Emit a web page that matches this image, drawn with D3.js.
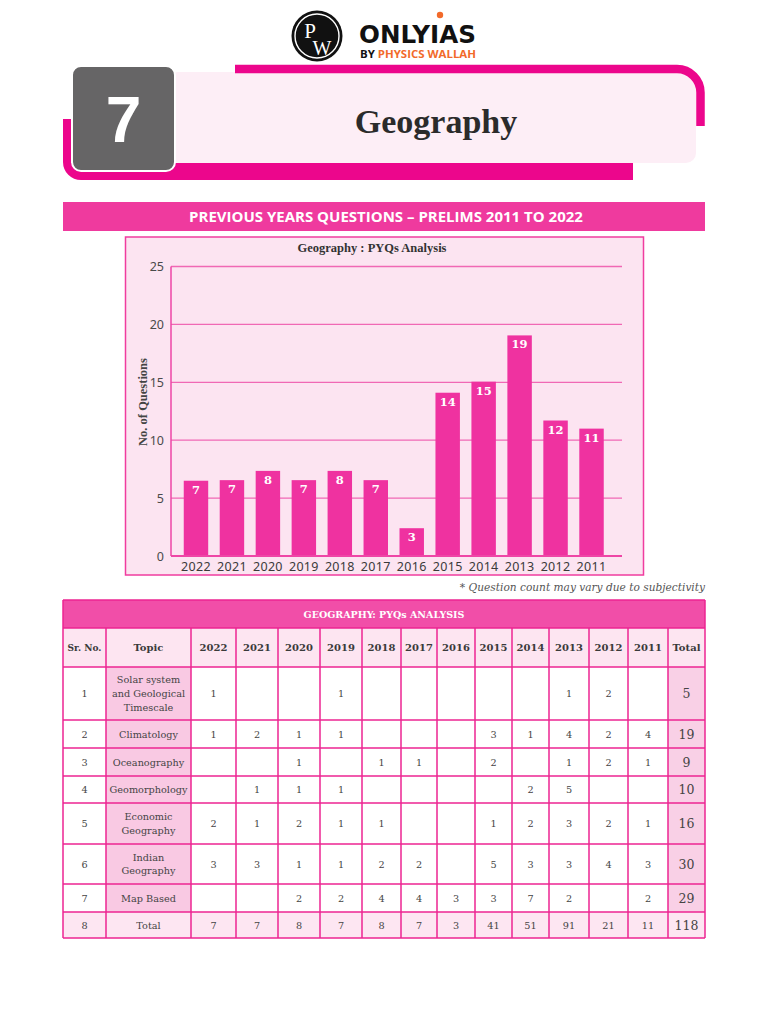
<!DOCTYPE html>
<html>
<head>
<meta charset="utf-8">
<script src="https://cdn.jsdelivr.net/npm/d3@7"></script>
<style>
  html, body { margin: 0; padding: 0; background: #ffffff; }
  svg { display: block; }
</style>
</head>
<body>
<svg id="page" width="768" height="1024"></svg>
<script>
// ---------------- DATA ----------------
const years = ["2022","2021","2020","2019","2018","2017","2016","2015","2014","2013","2012","2011"];
const questionCounts = [7, 7, 8, 7, 8, 7, 3, 14, 15, 19, 12, 11];            // printed bar labels
const barHeights = [6.5, 6.55, 7.35, 6.55, 7.35, 6.55, 2.4, 14.1, 15.05, 19.05, 11.7, 11.0]; // drawn heights
const yTicks = [0, 5, 10, 15, 20, 25];

const srNos = ["1","2","3","4","5","6","7","8"];
const topics = [
  ["Solar system", "and Geological", "Timescale"],
  ["Climatology"],
  ["Oceanography"],
  ["Geomorphology"],
  ["Economic", "Geography"],
  ["Indian", "Geography"],
  ["Map Based"],
  ["Total"]
];
const solarSystem   = [1, null, null, 1, null, null, null, null, null, 1, 2, null];
const climatology   = [1, 2, 1, 1, null, null, null, 3, 1, 4, 2, 4];
const oceanography  = [null, null, 1, null, 1, 1, null, 2, null, 1, 2, 1];
const geomorphology = [null, 1, 1, 1, null, null, null, null, 2, 5, null, null];
const economicGeo   = [2, 1, 2, 1, 1, null, null, 1, 2, 3, 2, 1];
const indianGeo     = [3, 3, 1, 1, 2, 2, null, 5, 3, 3, 4, 3];
const mapBased      = [null, null, 2, 2, 4, 4, 3, 3, 7, 2, null, 2];
const yearTotals    = [7, 7, 8, 7, 8, 7, 3, 41, 51, 91, 21, 11];
const rowTotals     = [5, 19, 9, 10, 16, 30, 29, 118];
const tableRows = [solarSystem, climatology, oceanography, geomorphology, economicGeo, indianGeo, mapBased, yearTotals];

// ---------------- PAGE ----------------
const svg = d3.select("#page");
svg.append("rect").attr("width", 768).attr("height", 1024).attr("fill", "#ffffff");

const MAG = "#ec068c";

// ---- Logo ----
const logo = svg.append("g");
logo.append("circle").attr("cx", 317).attr("cy", 36).attr("r", 25.5).attr("fill", "#111");
logo.append("circle").attr("cx", 317).attr("cy", 36).attr("r", 22).attr("fill", "none").attr("stroke", "#fff").attr("stroke-width", 1.4);
logo.append("text").attr("x", 310).attr("y", 38).attr("text-anchor", "middle")
  .attr("font-family", "Liberation Serif").attr("font-size", 21).attr("fill", "#fff").text("P");
logo.append("text").attr("x", 322).attr("y", 55).attr("text-anchor", "middle")
  .attr("font-family", "Liberation Serif").attr("font-size", 20).attr("fill", "#fff").text("W");
logo.append("text").attr("x", 359).attr("y", 43)
  .attr("font-family", "DejaVu Sans").attr("font-weight", "bold").attr("font-size", 25)
  .attr("textLength", 117).attr("lengthAdjust", "spacingAndGlyphs").attr("fill", "#111").text("ONLYIAS");
logo.append("circle").attr("cx", 440).attr("cy", 15).attr("r", 3.2).attr("fill", "#f26a2a");
const by = logo.append("text").attr("x", 360).attr("y", 58)
  .attr("font-family", "Open Sans").attr("font-weight", "bold").attr("font-size", 10.5)
  .attr("textLength", 116).attr("lengthAdjust", "spacingAndGlyphs");
by.append("tspan").attr("fill", "#111").text("BY ");
by.append("tspan").attr("fill", "#f26a2a").text("PHYSICS WALLAH");

// ---- Chapter banner ----
svg.append("rect").attr("x", 168).attr("y", 72).attr("width", 528).attr("height", 91).attr("rx", 10)
  .attr("fill", "#fdeef6");
svg.append("path")
  .attr("d", "M235,69 H677 A23.5,23.5 0 0 1 700.5,92.5 V126")
  .attr("fill", "none").attr("stroke", MAG).attr("stroke-width", 8.5);
svg.append("path")
  .attr("d", "M63,119 H71 V163 H633 V180 H81 A18,18 0 0 1 63,162 Z")
  .attr("fill", MAG);
svg.append("rect").attr("x", 72).attr("y", 66).attr("width", 103).attr("height", 105).attr("rx", 9)
  .attr("fill", "#666566").attr("stroke", "#ffffff").attr("stroke-width", 2);
svg.append("text").attr("x", 123.5).attr("y", 142).attr("text-anchor", "middle")
  .attr("font-family", "Liberation Sans").attr("font-weight", "bold").attr("font-size", 64)
  .attr("fill", "#ffffff").text("7");
svg.append("text").attr("x", 436).attr("y", 133).attr("text-anchor", "middle")
  .attr("font-family", "Liberation Serif").attr("font-weight", "bold").attr("font-size", 34)
  .attr("fill", "#2b2b2b").text("Geography");

// ---- Section heading bar ----
svg.append("rect").attr("x", 63).attr("y", 202).attr("width", 642).attr("height", 29).attr("fill", "#ef3a9e");
svg.append("text").attr("x", 386).attr("y", 222).attr("text-anchor", "middle")
  .attr("font-family", "Open Sans").attr("font-weight", "bold").attr("font-size", 15)
  .attr("fill", "#ffffff").text("PREVIOUS YEARS QUESTIONS \u2013 PRELIMS 2011 TO 2022");

// ---------------- CHART ----------------
svg.append("rect").attr("x", 125.5).attr("y", 237).attr("width", 518).attr("height", 338)
  .attr("fill", "#fce4f1").attr("stroke", "#f03c9f").attr("stroke-width", 1.5);

const x = d3.scaleBand().domain(years).range([178, 609.5]).paddingInner(0.32).paddingOuter(0.16);
const y = d3.scaleLinear().domain([0, 25]).range([556, 266.5]);
const plotLeft = 171, plotRight = 622;

const chart = svg.append("g");
// gridlines
chart.append("g").selectAll("line").data(yTicks.filter(d => d > 0)).join("line")
  .attr("x1", plotLeft).attr("x2", plotRight)
  .attr("y1", d => y(d)).attr("y2", d => y(d))
  .attr("stroke", "#f068b5").attr("stroke-width", 1.3);

// bars
chart.append("g").selectAll("rect").data(years).join("rect")
  .attr("x", d => x(d)).attr("width", x.bandwidth())
  .attr("y", (d, i) => y(barHeights[i]))
  .attr("height", (d, i) => y(0) - y(barHeights[i]))
  .attr("fill", "#ef32a0");

// bar labels
chart.append("g").selectAll("text").data(years).join("text")
  .attr("x", d => x(d) + x.bandwidth() / 2)
  .attr("y", (d, i) => y(barHeights[i]) + 13)
  .attr("text-anchor", "middle")
  .attr("font-family", "DejaVu Serif").attr("font-weight", "bold").attr("font-size", 11.5)
  .attr("fill", "#ffffff")
  .text((d, i) => questionCounts[i]);

// axes lines
chart.append("line").attr("x1", plotLeft).attr("x2", plotLeft).attr("y1", y(25)).attr("y2", y(0))
  .attr("stroke", "#ee46a6").attr("stroke-width", 1.5);
chart.append("line").attr("x1", plotLeft).attr("x2", plotRight).attr("y1", y(0)).attr("y2", y(0))
  .attr("stroke", "#ee46a6").attr("stroke-width", 2);

// y axis labels
const yAxis = d3.axisLeft(y).tickValues(yTicks).tickSize(0).tickPadding(7);
chart.append("g").attr("transform", `translate(${plotLeft},0)`).call(yAxis)
  .call(g => g.select(".domain").remove())
  .call(g => g.selectAll("text").attr("font-family", "Noto Sans").attr("font-size", 12.5).attr("fill", "#4a4a4a"));

// x axis labels
const xAxis = d3.axisBottom(x).tickSize(0).tickPadding(6);
chart.append("g").attr("transform", `translate(0,${y(0)})`).call(xAxis)
  .call(g => g.select(".domain").remove())
  .call(g => g.selectAll("text").attr("font-family", "Noto Sans").attr("font-size", 12.5)
    .attr("letter-spacing", 0.3).attr("fill", "#3a3a3a"));

// titles
svg.append("text").attr("x", 372).attr("y", 252).attr("text-anchor", "middle")
  .attr("font-family", "Liberation Serif").attr("font-weight", "bold").attr("font-size", 12.5)
  .attr("fill", "#333").text("Geography : PYQs Analysis");
svg.append("text").attr("transform", "translate(147,402) rotate(-90)").attr("text-anchor", "middle")
  .attr("font-family", "Liberation Serif").attr("font-weight", "bold").attr("font-size", 12.5)
  .attr("fill", "#444").text("No. of Questions");

// footnote
svg.append("text").attr("x", 705).attr("y", 591).attr("text-anchor", "end")
  .attr("font-family", "DejaVu Serif").attr("font-style", "italic").attr("font-size", 10.6)
  .attr("fill", "#555").text("* Question count may vary due to subjectivity");

// ---------------- TABLE ----------------
const colX = [63, 106, 191, 236, 278, 320, 362, 401, 437, 475, 512, 549, 589, 628, 668, 705];
const rowY = [600, 628, 667, 720, 748, 776, 803, 844, 884, 912, 938];
const BORDER = "#ec2592";
const tbl = svg.append("g");

// title row
tbl.append("rect").attr("x", colX[0]).attr("y", rowY[0]).attr("width", colX[15] - colX[0]).attr("height", rowY[1] - rowY[0])
  .attr("fill", "#f14ea8");
tbl.append("text").attr("x", 384).attr("y", 618).attr("text-anchor", "middle")
  .attr("font-family", "DejaVu Serif").attr("font-weight", "bold").attr("font-size", 9.5)
  .attr("fill", "#ffffff").text("GEOGRAPHY: PYQs ANALYSIS");

// header row
const headers = ["Sr. No.", "Topic"].concat(years).concat(["Total"]);
tbl.append("g").selectAll("rect").data(headers).join("rect")
  .attr("x", (d, i) => colX[i]).attr("y", rowY[1])
  .attr("width", (d, i) => colX[i + 1] - colX[i]).attr("height", rowY[2] - rowY[1])
  .attr("fill", "#fde5f1");
tbl.append("g").selectAll("text").data(headers).join("text")
  .attr("x", (d, i) => (colX[i] + colX[i + 1]) / 2).attr("y", (rowY[1] + rowY[2]) / 2 + 3.5)
  .attr("text-anchor", "middle")
  .attr("font-family", "DejaVu Serif").attr("font-weight", "bold")
  .attr("font-size", (d, i) => i === 0 ? 9 : 10)
  .attr("fill", "#3a3a3a").text(d => d);

// body rows
tableRows.forEach((vals, r) => {
  const y0 = rowY[r + 2], y1 = rowY[r + 3], cy = (y0 + y1) / 2;
  const isTotal = r === tableRows.length - 1;
  const cells = [srNos[r], topics[r]].concat(vals).concat([rowTotals[r]]);
  const g = tbl.append("g");
  g.selectAll("rect").data(cells).join("rect")
    .attr("x", (d, i) => colX[i]).attr("y", y0)
    .attr("width", (d, i) => colX[i + 1] - colX[i]).attr("height", y1 - y0)
    .attr("fill", (d, i) => {
      if (isTotal) return "#fde6f2";
      if (i === 1) return "#f9c9e3";
      if (i === cells.length - 1) return "#f9d0e6";
      return "#ffffff";
    });
  g.selectAll("text").data(cells).join("text")
    .attr("x", (d, i) => (colX[i] + colX[i + 1]) / 2)
    .attr("y", (d, i) => {
      if (i === 1 && Array.isArray(d)) return cy + 3.5 - (d.length - 1) * 6.8;
      return cy + (i === cells.length - 1 ? 4.5 : 3.5);
    })
    .attr("text-anchor", "middle")
    .attr("font-family", "DejaVu Serif")
    .attr("font-size", (d, i) => i === cells.length - 1 ? 12.5 : 9.7)
    .attr("fill", "#444")
    .each(function (d, i) {
      const t = d3.select(this);
      if (i === 1 && Array.isArray(d)) {
        d.forEach((line, k) => {
          t.append("tspan").attr("x", (colX[1] + colX[2]) / 2).attr("dy", k === 0 ? 0 : 13.6).text(line);
        });
      } else {
        t.text(d === null ? "" : d);
      }
    });
});

// grid lines of table
tbl.append("g").selectAll("line").data(colX).join("line")
  .attr("x1", d => d).attr("x2", d => d)
  .attr("y1", (d, i) => (i === 0 || i === colX.length - 1) ? rowY[0] : rowY[1])
  .attr("y2", rowY[rowY.length - 1])
  .attr("stroke", BORDER).attr("stroke-width", 1.5);
tbl.append("g").selectAll("line").data(rowY).join("line")
  .attr("x1", colX[0]).attr("x2", colX[colX.length - 1])
  .attr("y1", d => d).attr("y2", d => d)
  .attr("stroke", BORDER).attr("stroke-width", 1.5);
</script>
</body>
</html>
